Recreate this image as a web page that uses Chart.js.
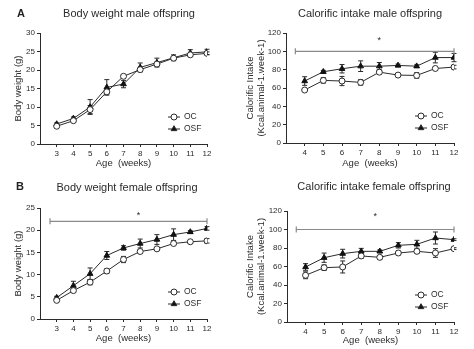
<!DOCTYPE html>
<html>
<head>
<meta charset="utf-8">
<script src="https://cdn.jsdelivr.net/npm/chart.js@4.4.1/dist/chart.umd.min.js"></script>
<style>
  body { margin: 0; background: #fff; width: 474px; height: 349px; position: relative; overflow: hidden;
         font-family: "Liberation Sans", Arial, sans-serif; }
  .panel { position: absolute; }
  .letter { position: absolute; font-weight: bold; font-size: 11px; color: #222; }
</style>
</head>
<body>
<div class="panel" style="left:0;top:0"><canvas id="bwMale" width="237" height="175"></canvas></div>
<div class="panel" style="left:237px;top:0"><canvas id="ciMale" width="237" height="175"></canvas></div>
<div class="panel" style="left:0;top:175px"><canvas id="bwFemale" width="237" height="174"></canvas></div>
<div class="panel" style="left:237px;top:175px"><canvas id="ciFemale" width="237" height="174"></canvas></div>
<div class="letter" style="left:17px;top:7px">A</div>
<div class="letter" style="left:16px;top:180px">B</div>

<script>
// x values (weeks)
const weeksBW = [3, 4, 5, 6, 7, 8, 9, 10, 11, 12];
const weeksCI = [4, 5, 6, 7, 8, 9, 10, 11, 12];

// Body weight, male offspring (g)
const bwMaleOC     = [4.8, 6.3, 9.3, 14.1, 18.3, 20.1, 21.6, 23.2, 24.1, 24.5];
const bwMaleOCErr  = [0.3, 0.3, 1.1, 0.6, 0.5, 0.4, 0.5, 0.4, 0.4, 0.4];
const bwMaleOSF    = [5.4, 6.9, 10.0, 15.3, 16.2, 20.7, 22.0, 23.3, 24.6, 24.9];
const bwMaleOSFErr = [0.3, 0.4, 2.0, 2.1, 1.0, 1.2, 1.2, 0.8, 0.9, 0.7];

// Calorific intake, male offspring
const ciMaleOC     = [57.8, 68.3, 67.6, 66.1, 77.3, 74.1, 73.7, 81.3, 82.8];
const ciMaleOCErr  = [1.5, 3, 5, 3, 2, 1.5, 3, 1.5, 2];
const ciMaleOSF    = [67.6, 77.7, 81.0, 83.8, 83.8, 84.6, 83.8, 93.2, 93.2];
const ciMaleOSFErr = [4.7, 1.5, 4.6, 5.8, 4.0, 1.5, 1.5, 5.8, 4.5];

// Body weight, female offspring (g)
const bwFemaleOC     = [4.2, 6.4, 8.3, 10.8, 13.4, 15.2, 15.8, 17.0, 17.4, 17.6];
const bwFemaleOCErr  = [0.3, 0.3, 0.6, 0.5, 0.7, 0.4, 0.3, 0.4, 0.3, 0.5];
const bwFemaleOSF    = [4.8, 7.5, 10.2, 14.3, 16.0, 17.0, 17.9, 19.0, 19.6, 20.4];
const bwFemaleOSFErr = [0.3, 1.0, 1.3, 0.9, 0.5, 1.0, 1.1, 1.3, 0.3, 0.4];

// Calorific intake, female offspring
const ciFemaleOC     = [50.5, 58.7, 59.5, 71.4, 69.9, 74.6, 76.4, 74.6, 79.3];
const ciFemaleOCErr  = [3.7, 3, 6.5, 2.5, 2, 2, 2, 4.7, 1];
const ciFemaleOSF    = [59.5, 69.5, 73.9, 76.4, 76.4, 82.9, 84.0, 90.8, 89.0];
const ciFemaleOSFErr = [3.6, 5, 4.7, 3.2, 1.5, 2.9, 4.3, 6.5, 1];

// y tick ranges
const bwMaleTicks = { max: 30, step: 5 };
const bwFemaleTicks = { max: 25, step: 5 };
const ciTicks = { max: 120, step: 20 };

// significance bars: [from week, to week, y value, star week, star y]
const sigCIMale = [3.5, 12, 100, 8, 112];
const sigBWFemale = [2.6, 12, 22, 7.9, 23.4];
const sigCIFemale = [3.5, 12, 100, 7.75, 114];

const INK = '#2b2b2b';
const FONT = '"Liberation Sans", Arial, sans-serif';

const toPts = (xs, ys) => xs.map((x, i) => ({ x: x, y: ys[i] }));

// error bars drawn under the markers
const errorBars = {
  id: 'errorBars',
  beforeDatasetsDraw(chart) {
    const ctx = chart.ctx;
    const ys = chart.scales.y;
    chart.data.datasets.forEach((ds, di) => {
      const meta = chart.getDatasetMeta(di);
      ctx.save();
      ctx.strokeStyle = INK;
      ctx.lineWidth = 1;
      meta.data.forEach((pt, i) => {
        const v = ds.data[i].y, e = ds.errors[i];
        const top = ys.getPixelForValue(v + e), bot = ys.getPixelForValue(v - e);
        ctx.beginPath();
        ctx.moveTo(pt.x, top); ctx.lineTo(pt.x, bot);
        ctx.moveTo(pt.x - 2.5, top); ctx.lineTo(pt.x + 2.5, top);
        ctx.moveTo(pt.x - 2.5, bot); ctx.lineTo(pt.x + 2.5, bot);
        ctx.stroke();
      });
      ctx.restore();
    });
  }
};

// title, significance bar, legend
const decor = {
  id: 'decor',
  afterDraw(chart, args, opts) {
    const ctx = chart.ctx;
    const xs = chart.scales.x, ys = chart.scales.y;
    const area = chart.chartArea;
    ctx.save();
    ctx.fillStyle = INK;
    ctx.font = '11px ' + FONT;
    ctx.textAlign = 'center';
    ctx.textBaseline = 'middle';
    ctx.fillText(opts.title, opts.titleX, opts.titleY);

    if (opts.sig) {
      const [a, b, yv, sx, sy] = opts.sig;
      const x1 = xs.getPixelForValue(a), x2 = xs.getPixelForValue(b), y = ys.getPixelForValue(yv);
      ctx.strokeStyle = '#8a8a8a';
      ctx.lineWidth = 1.2;
      ctx.beginPath();
      ctx.moveTo(x1, y); ctx.lineTo(x2, y);
      ctx.moveTo(x1, y - 3); ctx.lineTo(x1, y + 3);
      ctx.moveTo(x2, y - 3); ctx.lineTo(x2, y + 3);
      ctx.stroke();
      ctx.font = '9px ' + FONT;
      ctx.fillText('*', xs.getPixelForValue(sx), ys.getPixelForValue(sy));
    }

    // legend
    chart.data.datasets.forEach((ds, i) => {
      const y = area.bottom - 27 + i * 12;
      const mx = area.right - 33;
      ctx.strokeStyle = INK;
      ctx.lineWidth = 1;
      ctx.beginPath();
      ctx.moveTo(mx - 6, y); ctx.lineTo(mx + 6, y);
      ctx.stroke();
      ctx.fillStyle = ds.pointBackgroundColor;
      Chart.helpers.drawPoint(ctx, { pointStyle: ds.pointStyle, radius: ds.pointRadius, borderWidth: 1, rotation: 0 }, mx, y);
      ctx.fillStyle = INK;
      ctx.font = '8.5px ' + FONT;
      ctx.textAlign = 'left';
      ctx.fillText(ds.label, mx + 10, y);
    });
    ctx.restore();
  }
};

function makeChart(id, p) {
  const canvas = document.getElementById(id);
  const W = canvas.width, H = canvas.height;
  const a = p.area;
  return new Chart(canvas, {
    type: 'line',
    data: {
      datasets: [
        {
          label: 'OC', data: toPts(p.weeks, p.oc), errors: p.ocErr,
          borderColor: INK, borderWidth: 1, pointStyle: 'circle', pointRadius: 3,
          pointBackgroundColor: '#fff', pointBorderColor: INK, pointBorderWidth: 1, tension: 0
        },
        {
          label: 'OSF', data: toPts(p.weeks, p.osf), errors: p.osfErr,
          borderColor: INK, borderWidth: 1, pointStyle: 'triangle', pointRadius: 3.3,
          pointBackgroundColor: '#111', pointBorderColor: '#111', pointBorderWidth: 1, tension: 0
        }
      ]
    },
    options: {
      responsive: false,
      animation: false,
      events: [],
      layout: { padding: { top: a.top, right: W - a.right, left: 0, bottom: 0 } },
      plugins: {
        legend: { display: false },
        title: { display: false },
        tooltip: { enabled: false },
        decor: { title: p.title, titleX: p.titleX, titleY: p.titleY, sig: p.sig }
      },
      scales: {
        x: {
          type: 'linear', min: p.xMin, max: 12,
          afterBuildTicks: s => { s.ticks = p.weeks.map(v => ({ value: v })); },
          afterFit: s => { s.height = H - a.bottom; },
          grid: { drawOnChartArea: false, tickLength: 3, color: INK },
          border: { color: INK },
          ticks: { font: { size: 8, family: FONT }, color: INK, padding: 2, maxRotation: 0 },
          title: { display: true, text: 'Age  (weeks)', font: { size: 9.5, family: FONT }, color: INK,
                   padding: { top: 0, bottom: p.xTitlePad } }
        },
        y: {
          min: 0, max: p.yTicks.max,
          ticks: { stepSize: p.yTicks.step, font: { size: 8, family: FONT }, color: INK, padding: 2 },
          afterFit: s => { s.width = a.left; },
          grid: { drawOnChartArea: false, tickLength: 3, color: INK },
          border: { color: INK },
          title: { display: true, text: p.yTitle, font: { size: 9.5, family: FONT }, color: INK,
                   padding: { top: p.yTitlePad, bottom: 0 } }
        }
      }
    },
    plugins: [errorBars, decor]
  });
}

makeChart('bwMale', {
  weeks: weeksBW, oc: bwMaleOC, ocErr: bwMaleOCErr, osf: bwMaleOSF, osfErr: bwMaleOSFErr,
  area: { left: 40, top: 33, right: 207, bottom: 144 }, xMin: 2, yTicks: bwMaleTicks,
  title: 'Body weight male offspring', titleX: 129, titleY: 14,
  yTitle: 'Body weight (g)', yTitlePad: 12.5, xTitlePad: 5.5
});
makeChart('ciMale', {
  weeks: weeksCI, oc: ciMaleOC, ocErr: ciMaleOCErr, osf: ciMaleOSF, osfErr: ciMaleOSFErr,
  area: { left: 49, top: 33, right: 217, bottom: 143 }, xMin: 3, yTicks: ciTicks,
  title: 'Calorific intake male offspring', titleX: 133, titleY: 14, sig: sigCIMale,
  yTitle: ['Calorific Intake', '(Kcal.animal-1.week-1)'], yTitlePad: 7.5, xTitlePad: 5.5
});
makeChart('bwFemale', {
  weeks: weeksBW, oc: bwFemaleOC, ocErr: bwFemaleOCErr, osf: bwFemaleOSF, osfErr: bwFemaleOSFErr,
  area: { left: 40, top: 33, right: 207, bottom: 144 }, xMin: 2, yTicks: bwFemaleTicks,
  title: 'Body weight female offspring', titleX: 127, titleY: 13, sig: sigBWFemale,
  yTitle: 'Body weight (g)', yTitlePad: 12.5, xTitlePad: 4.5
});
makeChart('ciFemale', {
  weeks: weeksCI, oc: ciFemaleOC, ocErr: ciFemaleOCErr, osf: ciFemaleOSF, osfErr: ciFemaleOSFErr,
  area: { left: 50, top: 36, right: 217, bottom: 147 }, xMin: 3, yTicks: ciTicks,
  title: 'Calorific intake female offspring', titleX: 137, titleY: 12, sig: sigCIFemale,
  yTitle: ['Calorific Intake', '(Kcal.animal-1.week-1)'], yTitlePad: 7.5, xTitlePad: 2.5
});
</script>
</body>
</html>
